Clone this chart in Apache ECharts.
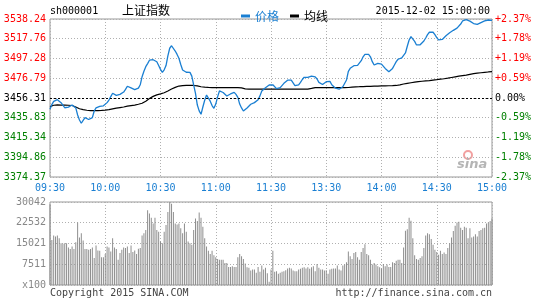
<!DOCTYPE html>
<html>
<head>
<meta charset="utf-8">
<script src="https://cdn.jsdelivr.net/npm/echarts@6/dist/echarts.min.js"></script>
<style>
html, body { margin: 0; padding: 0; background: #fff; }
#chart { width: 545px; height: 300px; }
</style>
</head>
<body>
<div id="chart"></div>
<script>
// 上证指数 分时 2015-12-02
var prevClose = 3456.31;
var priceTicks = [3374.37, 3394.86, 3415.34, 3435.83, 3456.31, 3476.79, 3497.28, 3517.76, 3538.24];
var pctLabels = ['-2.37%', '-1.78%', '-1.19%', '-0.59%', '0.00%', '+0.59%', '+1.19%', '+1.78%', '+2.37%'];
var volTicks = [0, 7511, 15021, 22532, 30042];
var volLabels = ['x100', '7511', '15021', '22532', '30042'];

// 09:30-11:30, 13:01-15:00
var times = [];
for (var m = 9 * 60 + 30; m <= 11 * 60 + 30; m++) times.push(('0' + Math.floor(m / 60)).slice(-2) + ':' + ('0' + m % 60).slice(-2));
for (var m2 = 13 * 60 + 1; m2 <= 15 * 60; m2++) times.push(('0' + Math.floor(m2 / 60)).slice(-2) + ':' + ('0' + m2 % 60).slice(-2));

var price = [
  3444.6, 3449.5, 3452.8, 3454.2, 3454.6, 3454.0, 3451.5, 3449.0, 3446.2, 3446.5,
  3446.8, 3448.0, 3449.0, 3448.2, 3446.0, 3438.7, 3433.5, 3430.1, 3433.0, 3435.9,
  3436.2, 3434.0, 3432.5, 3436.0, 3442.8, 3446.0, 3447.3, 3447.6, 3447.0, 3448.2,
  3449.0, 3451.5, 3454.2, 3457.8, 3461.2, 3460.5, 3459.0, 3459.4, 3460.1, 3461.0,
  3462.5, 3465.2, 3468.5, 3467.6, 3466.8, 3466.0, 3465.0, 3464.6, 3466.5, 3470.0,
  3478.4, 3484.0, 3488.8, 3492.0, 3495.5, 3497.5, 3496.0, 3494.0, 3493.9, 3490.0,
  3486.0, 3482.9, 3485.5, 3490.0, 3500.0, 3507.9, 3510.5, 3508.5, 3505.0, 3501.5,
  3497.5, 3491.0, 3485.3, 3483.8, 3483.0, 3483.3, 3482.9, 3479.0, 3470.0, 3461.2,
  3449.0, 3443.0, 3439.4, 3447.0, 3454.0, 3459.4, 3458.0, 3453.0, 3448.5, 3445.6,
  3450.0, 3457.5, 3463.6, 3463.0, 3462.0, 3460.0, 3458.4, 3459.0, 3460.5, 3461.5,
  3462.2, 3460.0, 3457.0, 3450.0, 3446.0, 3442.8, 3444.0, 3446.0, 3448.0, 3449.8,
  3450.5, 3451.5, 3452.5, 3454.5, 3458.5, 3463.6, 3465.5, 3467.0, 3468.5, 3469.8,
  3471.5,
  3470.0, 3468.0, 3466.0, 3464.6, 3467.0, 3469.0, 3471.5, 3473.2, 3474.8, 3476.0,
  3474.8, 3473.0, 3469.1, 3469.5, 3470.0, 3472.5, 3475.5, 3477.8, 3478.0, 3477.7,
  3478.4, 3479.1, 3478.8, 3478.3, 3476.0, 3472.5, 3470.5, 3470.3, 3470.5, 3473.2,
  3473.8, 3473.6, 3470.0, 3468.0, 3466.5, 3465.6, 3465.4, 3465.5, 3468.0, 3466.0,
  3475.0, 3484.0, 3487.1, 3488.8, 3489.8, 3490.0, 3490.2, 3490.5, 3495.0, 3499.0,
  3501.5, 3503.3, 3501.5, 3499.0, 3494.0, 3490.5, 3491.5, 3492.3, 3492.0, 3491.5,
  3489.5, 3487.0, 3485.0, 3483.6, 3485.0, 3487.0, 3490.5, 3494.0, 3496.5, 3498.5,
  3498.0, 3498.3, 3503.0, 3510.0, 3516.5, 3519.9, 3518.0, 3515.0, 3511.3, 3511.0,
  3511.5, 3513.0, 3515.4, 3518.5, 3522.0, 3524.5, 3525.8, 3524.5, 3522.0, 3519.0,
  3516.5, 3516.2, 3517.0, 3519.0, 3520.9, 3522.0, 3524.0, 3525.5, 3526.5, 3527.9,
  3528.8, 3530.0, 3533.0, 3536.2, 3537.2, 3537.5, 3537.0, 3536.0, 3534.8, 3533.5,
  3533.0, 3532.7, 3533.5, 3534.5, 3535.5, 3536.2, 3536.8, 3537.2, 3537.0, 3536.8
];

var avgLine = [
  3447.3, 3448.2, 3448.8, 3449.0, 3449.1, 3449.1, 3449.0, 3449.0, 3449.0, 3448.9,
  3448.8, 3448.7, 3448.5, 3447.8, 3447.0, 3446.0, 3445.2, 3444.6, 3444.2, 3443.9,
  3443.6, 3443.4, 3443.3, 3443.2, 3443.2, 3443.2, 3443.3, 3443.4, 3443.5, 3443.7,
  3443.8, 3443.9, 3444.2, 3444.6, 3445.0, 3445.4, 3445.8, 3446.1, 3446.4, 3446.7,
  3447.0, 3447.4, 3447.8, 3448.1, 3448.4, 3448.7, 3449.0, 3449.4, 3449.8, 3450.3,
  3450.9, 3451.8, 3453.0, 3454.3, 3455.7, 3457.0, 3458.0, 3458.9, 3459.6, 3460.1,
  3460.6, 3461.2, 3461.8, 3462.6, 3463.6, 3464.6, 3465.6, 3466.5, 3467.3, 3468.0,
  3468.7, 3468.9, 3469.1, 3469.3, 3469.4, 3469.5, 3469.5, 3469.4, 3469.3, 3469.1,
  3468.8, 3468.4, 3468.0, 3467.8, 3467.6, 3467.4, 3467.3, 3467.2, 3467.1, 3467.0,
  3467.0, 3467.0, 3467.0, 3467.0, 3467.0, 3467.0, 3467.0, 3467.0, 3467.0, 3467.0,
  3467.0, 3467.0, 3467.0, 3467.0, 3466.8, 3466.0, 3465.7, 3465.6, 3465.6, 3465.6,
  3465.6, 3465.6, 3465.6, 3465.6, 3465.6, 3465.6, 3465.6, 3465.6, 3465.6, 3465.6,
  3465.6,
  3465.6, 3465.6, 3465.6, 3465.6, 3465.6, 3465.6, 3465.6, 3465.6, 3465.6, 3465.6,
  3465.6, 3465.6, 3465.6, 3465.6, 3465.6, 3465.6, 3465.6, 3465.6, 3465.6, 3465.6,
  3465.7, 3466.2, 3466.8, 3467.0, 3467.0, 3467.0, 3467.0, 3467.0, 3467.0, 3467.0,
  3467.0, 3467.0, 3467.0, 3467.0, 3467.0, 3467.0, 3467.0, 3467.0, 3467.0, 3467.0,
  3467.1, 3467.2, 3467.4, 3467.6, 3467.8, 3467.9, 3468.0, 3468.0, 3468.1, 3468.2,
  3468.2, 3468.3, 3468.4, 3468.4, 3468.5, 3468.6, 3468.6, 3468.7, 3468.8, 3468.8,
  3468.9, 3468.9, 3469.0, 3469.0, 3469.1, 3469.1, 3469.2, 3469.3, 3469.6, 3470.0,
  3470.4, 3470.8, 3471.2, 3471.5, 3471.8, 3472.1, 3472.4, 3472.7, 3473.0, 3473.3,
  3473.5, 3473.7, 3473.9, 3474.1, 3474.2, 3474.4, 3474.6, 3474.9, 3475.1, 3475.3,
  3475.6, 3475.8, 3476.0, 3476.3, 3476.6, 3476.9, 3477.2, 3477.6, 3477.9, 3478.3,
  3478.6, 3478.9, 3479.2, 3479.5, 3479.8, 3480.1, 3480.4, 3480.8, 3481.2, 3481.5,
  3481.9, 3482.1, 3482.3, 3482.5, 3482.7, 3482.9, 3483.1, 3483.3, 3483.5, 3483.6
];

// 成交量 (x100)
var volume = [
  29200, 16330, 17880, 17520, 17880, 16930, 15140, 14900, 15140, 15140,
  13590, 12990, 13950, 12990, 15500, 22650, 17160, 18710, 16090, 12990,
  12990, 12750, 12990, 13590, 9770, 14300, 12520, 12400, 10010, 10010,
  11200, 13950, 13590, 12160, 16930, 13590, 12990, 9180, 11560, 12750,
  13590, 13350, 13950, 11560, 14300, 11920, 12520, 11200, 13110, 13350,
  17880, 18710, 19900, 27060, 25870, 24320, 22290, 24320, 19900, 19310,
  15730, 15140, 19310, 21690, 26460, 30042, 29440, 26460, 22290, 21930,
  22290, 20500, 18710, 22290, 19310, 15730, 15140, 14540, 19900, 24080,
  23120, 26220, 24320, 21100, 16930, 13950, 12400, 11200, 12400, 10730,
  10010, 9420, 9180, 9180, 9180, 7990, 7990, 6560, 6560, 6790,
  6560, 6560, 10010, 11200, 10370, 9420, 7750, 6440, 6200, 5240,
  5600, 5600, 4410, 6560, 4770, 7030, 5600, 6200, 4290, 1190,
  5600,
  12400, 4770, 5010, 4050, 4410, 4770, 5010, 5360, 5960, 6200,
  5960, 5240, 5010, 5010, 5600, 5840, 6200, 6440, 5960, 6440,
  5840, 6440, 6790, 5010, 7630, 6200, 5600, 5600, 5240, 5360,
  4050, 5600, 5840, 5960, 5960, 7030, 5600, 5240, 7030, 7390,
  8220, 12160, 10370, 9420, 11560, 11920, 10010, 9180, 11920, 13350,
  14780, 11200, 10730, 9180, 7390, 7990, 7390, 6790, 6440, 5960,
  7630, 6790, 7390, 6560, 6560, 8220, 7990, 8820, 9180, 9180,
  7990, 13590, 19670, 20140, 24320, 23240, 16930, 10730, 9420, 9180,
  9770, 10370, 13350, 17880, 18710, 18360, 16690, 14540, 12750, 11920,
  10970, 12400, 11200, 11800, 11200, 13350, 15140, 17160, 19550, 21460,
  22650, 22890, 20740, 19900, 21100, 20740, 16930, 20500, 17160, 17520,
  18360, 17520, 19550, 19900, 20500, 20740, 22290, 22650, 23120, 24080
];

var MONO = 'DejaVu Sans Mono';
var BLUE = '#1a7fd2';
var GRID_LINE = { show: true, lineStyle: { color: '#b0b0b0', type: [1, 2], width: 1 } };

function showHalfHour(i) { return i % 30 === 0; }
function priceColor(v) {
  if (v > prevClose + 0.001) return '#ff0000';
  if (v < prevClose - 0.001) return '#008000';
  return '#000000';
}

var chart = echarts.init(document.getElementById('chart'));
chart.setOption({
  animation: false,
  backgroundColor: '#fff',
  legend: {
    left: 236, top: 5,
    icon: 'rect', itemWidth: 9, itemHeight: 3, itemGap: 11,
    selectedMode: false,
    textStyle: { fontFamily: 'Noto Sans CJK SC', fontSize: 12 },
    data: [
      { name: '价格', textStyle: { color: BLUE } },
      { name: '均线', textStyle: { color: '#000' } }
    ]
  },
  graphic: [
    { type: 'text', left: 50, top: 6, style: { text: 'sh000001', font: '10px "DejaVu Sans Mono"', fill: '#000' } },
    { type: 'text', left: 122, top: 4, style: { text: '上证指数', font: '12px "Noto Sans CJK SC"', fill: '#000' } },
    { type: 'text', right: 55, top: 6, style: { text: '2015-12-02 15:00:00', font: '10px "DejaVu Sans Mono"', fill: '#000' } },
    { type: 'text', left: 50, top: 288, style: { text: 'Copyright 2015 SINA.COM', font: '10px "DejaVu Sans Mono"', fill: '#444' } },
    { type: 'text', right: 53, top: 288, style: { text: 'http://finance.sina.com.cn', font: '10px "DejaVu Sans Mono"', fill: '#444' } },
    { type: 'circle', shape: { cx: 468, cy: 155, r: 4 }, style: { fill: 'none', stroke: '#f2a0a0', lineWidth: 2 } },
    { type: 'text', left: 457, top: 158, style: { text: 'sina', font: 'italic bold 13px "DejaVu Sans"', fill: '#b5b5b5' } }
  ],
  grid: [
    { left: 50, right: 53, top: 19, height: 158, show: true, borderColor: '#999', borderWidth: 1 },
    { left: 50, right: 53, top: 202, height: 83, show: true, borderColor: '#999', borderWidth: 1 }
  ],
  xAxis: [
    {
      type: 'category', gridIndex: 0, data: times, boundaryGap: false,
      axisLine: { show: false }, axisTick: { show: false },
      axisLabel: { interval: showHalfHour, color: BLUE, fontFamily: MONO, fontSize: 10, margin: 6, showMaxLabel: true },
      splitLine: { show: true, interval: showHalfHour, lineStyle: GRID_LINE.lineStyle }
    },
    {
      type: 'category', gridIndex: 1, data: times, boundaryGap: false,
      axisLine: { show: false }, axisTick: { show: false }, axisLabel: { show: false },
      splitLine: { show: true, interval: showHalfHour, lineStyle: GRID_LINE.lineStyle }
    }
  ],
  yAxis: [
    {
      type: 'value', gridIndex: 0, min: priceTicks[0], max: priceTicks[8],
      axisLine: { show: false },
      axisTick: { show: false, customValues: priceTicks },
      axisLabel: {
        customValues: priceTicks, margin: 4, fontFamily: MONO, fontSize: 10,
        color: priceColor,
        formatter: function (v) { return v.toFixed(2); }
      },
      splitLine: GRID_LINE
    },
    {
      type: 'value', gridIndex: 0, position: 'right', min: priceTicks[0], max: priceTicks[8],
      axisLine: { show: false },
      axisTick: { show: false, customValues: priceTicks },
      axisLabel: {
        customValues: priceTicks, margin: 3, fontFamily: MONO, fontSize: 10,
        color: priceColor,
        formatter: function (v) {
          var k = 0, best = 1e9;
          for (var i = 0; i < priceTicks.length; i++) {
            var d = Math.abs(priceTicks[i] - v);
            if (d < best) { best = d; k = i; }
          }
          return pctLabels[k];
        }
      },
      splitLine: { show: false }
    },
    {
      type: 'value', gridIndex: 1, min: 0, max: volTicks[4],
      axisLine: { show: false },
      axisTick: { show: false, customValues: volTicks },
      axisLabel: {
        customValues: volTicks, margin: 4, fontFamily: MONO, fontSize: 10, color: '#888',
        formatter: function (v) { return volLabels[volTicks.indexOf(v)] || String(v); }
      },
      splitLine: GRID_LINE
    }
  ],
  series: [
    {
      name: '价格', type: 'line', xAxisIndex: 0, yAxisIndex: 0,
      data: price, showSymbol: false, symbol: 'none',
      lineStyle: { color: BLUE, width: 1.3 }, itemStyle: { color: BLUE },
      z: 4,
      markLine: {
        silent: true, symbol: 'none', animation: false,
        label: { show: false },
        lineStyle: { color: '#000', type: [2, 2], width: 1 },
        data: [{ yAxis: prevClose }]
      }
    },
    {
      name: '均线', type: 'line', xAxisIndex: 0, yAxisIndex: 0,
      data: avgLine, showSymbol: false, symbol: 'none',
      lineStyle: { color: '#000', width: 1.2 }, itemStyle: { color: '#000' },
      z: 3
    },
    {
      name: '成交量', type: 'bar', xAxisIndex: 1, yAxisIndex: 2,
      data: volume, barWidth: 1,
      itemStyle: { color: '#8e8e8e' }
    }
  ]
});
</script>
</body>
</html>
